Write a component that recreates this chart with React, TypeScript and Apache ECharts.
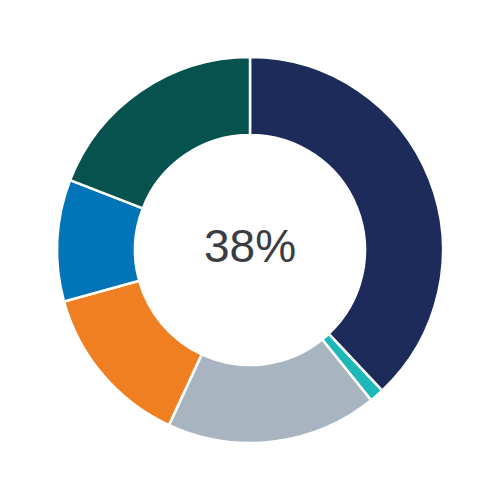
import React, { useEffect, useRef } from 'react';
import * as echarts from 'echarts';

const categories = ['A', 'B', 'C', 'D', 'E', 'F'];
const values = [38, 1.2, 17.7, 13.8, 10.2, 19.1];
const colors = ['#1c2b5a', '#1fb8b8', '#a9b4c1', '#f07f21', '#0274b8', '#05524f'];
const centerLabel = '38%';

const App = () => {
    const chartRef = useRef(null);

    useEffect(() => {
        const myChart = echarts.init(chartRef.current, null, { renderer: 'svg' });

        myChart.setOption({
            animation: false,
            title: {
                text: centerLabel,
                left: 'center',
                top: 218,
                textStyle: {
                    fontFamily: 'Liberation Sans',
                    fontSize: 46,
                    fontWeight: 'normal',
                    color: '#3a3d42',
                },
            },
            series: [
                {
                    type: 'pie',
                    radius: [115, 193],
                    center: ['50%', '50%'],
                    startAngle: 90,
                    label: { show: false },
                    labelLine: { show: false },
                    itemStyle: {
                        borderColor: '#ffffff',
                        borderWidth: 2.5,
                    },
                    emphasis: { disabled: true },
                    data: categories.map((name, i) => ({
                        name,
                        value: values[i],
                        itemStyle: { color: colors[i] },
                    })),
                },
            ],
        });

        return () => {
            myChart.dispose();
        };
    }, []);

    return (
        <div
            ref={chartRef}
            style={{ position: 'absolute', left: 0, top: 0, width: '500px', height: '500px' }}
        />
    );
};

export default App;
